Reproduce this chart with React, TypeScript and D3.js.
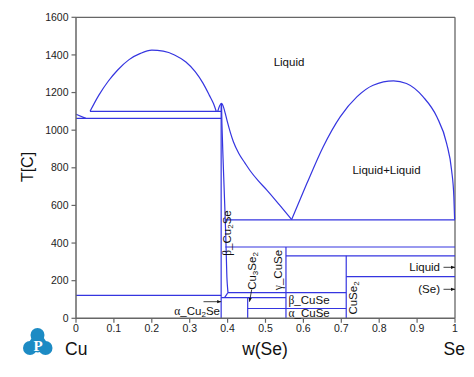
import React from "react";
import * as d3 from "d3";

// ---- data ----
const xTicks = [0, 0.1, 0.2, 0.3, 0.4, 0.5, 0.6, 0.7, 0.8, 0.9, 1];
const xTickLabels = ["0", "0.1", "0.2", "0.3", "0.4", "0.5", "0.6", "0.7", "0.8", "0.9", "1"];
const yTicks = [0, 200, 400, 600, 800, 1000, 1200, 1400, 1600];

// liquidus from pure Cu to eutectic
const cuLiquidus: [number, number][] = [[0, 1085], [0.026, 1063]];
// Cu-rich liquid miscibility gap
const leftDome: [number, number][] = [
  [0.037, 1100], [0.06, 1185], [0.085, 1260], [0.11, 1320], [0.14, 1375], [0.17, 1408],
  [0.2, 1425], [0.23, 1420], [0.26, 1400], [0.29, 1362], [0.315, 1310], [0.335, 1250],
  [0.352, 1185], [0.363, 1140], [0.37, 1100],
];
// Cu2Se liquidus
const cu2seLiquidus: [number, number][] = [
  [0.374, 1100], [0.379, 1130], [0.384, 1142], [0.389, 1124], [0.395, 1080], [0.4, 1040],
  [0.415, 940], [0.43, 875], [0.446, 825], [0.46, 783], [0.48, 733], [0.503, 683],
  [0.538, 600], [0.569, 525],
];
// Se-rich liquid miscibility gap
const rightDome: [number, number][] = [
  [0.569, 525], [0.609, 716], [0.652, 911], [0.697, 1071], [0.741, 1177], [0.784, 1239],
  [0.838, 1262], [0.872, 1248], [0.916, 1177], [0.952, 1071], [0.978, 929], [0.991, 787],
  [0.997, 645], [0.999, 525],
];
// beta Cu2Se Se-rich boundary
const betaBoundary: [number, number][] = [
  [0.384, 1142], [0.385, 1035], [0.388, 850], [0.391, 682], [0.395, 450], [0.397, 300],
  [0.399, 186], [0.401, 137],
];
const betaLower: [number, number][] = [[0.401, 137], [0.396, 122], [0.392, 110]];

// horizontal invariant lines: [T, xStart, xEnd]
const horizontals: [number, number, number][] = [
  [1063, 0, 0.383], [1100, 0.037, 0.383], [523, 0.393, 1], [379, 0.394, 1],
  [332, 0.554, 1], [221, 0.713, 1], [137, 0.401, 0.713], [110, 0.383, 0.554],
  [122, 0, 0.383], [52, 0.453, 0.713],
];
// vertical compound lines: [x, Tlow, Thigh]
const verticals: [number, number, number][] = [
  [0.383, 0, 1142], [0.453, 0, 110], [0.554, 0, 379], [0.713, 0, 332],
];

const BLUE = "#3535e0";
const AX = "#666";
const FONT = "'Liberation Sans', Arial, sans-serif";
const SERIF = "'Liberation Serif', 'Times New Roman', serif";

export default function App() {
  const x = d3.scaleLinear().domain([0, 1]).range([76, 455]);
  const y = d3.scaleLinear().domain([0, 1600]).range([318.3, 17.3]);
  const line = d3.line<[number, number]>().x(d => x(d[0])).y(d => y(d[1]));
  const monoX = d3.line<[number, number]>().x(d => x(d[0])).y(d => y(d[1])).curve(d3.curveMonotoneX);
  const monoY = d3.line<[number, number]>().x(d => x(d[0])).y(d => y(d[1])).curve(d3.curveMonotoneY);

  const paths = [
    line(cuLiquidus), line(betaLower),
    monoX(leftDome), monoX(cu2seLiquidus), monoX(rightDome), monoY(betaBoundary),
  ];

  const lab = { fontFamily: FONT, fontSize: 11.5, fill: "#111" } as const;

  return (
    <svg width={474} height={377} style={{ position: "absolute", left: 0, top: 0, background: "#fff" }}>
      <defs>
        <marker id="arr" viewBox="0 0 10 10" refX="10" refY="5" markerWidth="5" markerHeight="5" orient="auto">
          <path d="M0,1 L10,5 L0,9 z" fill="#111" />
        </marker>
      </defs>
      <rect x={0} y={0} width={474} height={377} fill="#fff" />

      {/* frame */}
      <line x1={x(0)} x2={x(1)} y1={y(1600)} y2={y(1600)} stroke={AX} strokeWidth={1.3} />
      <line x1={x(1)} x2={x(1)} y1={y(1600)} y2={y(0)} stroke={AX} strokeWidth={1.3} />

      {/* phase lines */}
      <g fill="none" stroke={BLUE} strokeWidth={1.2}>
        {paths.map((d, i) => <path key={"p" + i} d={d || ""} />)}
        {horizontals.map(([t, a, b], i) => (
          <line key={"h" + i} x1={x(a)} x2={x(b)} y1={y(t)} y2={y(t)} />
        ))}
        {verticals.map(([v, t0, t1], i) => (
          <line key={"v" + i} x1={x(v)} x2={x(v)} y1={y(t0)} y2={y(t1)} />
        ))}
      </g>

      {/* axes */}
      <line x1={x(0)} x2={x(0)} y1={y(0)} y2={y(1600)} stroke={AX} strokeWidth={1.5} />
      <line x1={x(0)} x2={x(1)} y1={y(0)} y2={y(0)} stroke={AX} strokeWidth={1.5} />
      {yTicks.map(t => (
        <g key={"yt" + t}>
          <line x1={x(0) - 4.5} x2={x(0)} y1={y(t)} y2={y(t)} stroke={AX} strokeWidth={1.2} />
          <text x={68.5} y={y(t)} dy="0.35em" textAnchor="end" fontFamily={FONT} fontSize={10.5} fill="#222">{t}</text>
        </g>
      ))}
      {xTicks.map((t, i) => (
        <g key={"xt" + t}>
          <line x1={x(t)} x2={x(t)} y1={y(0)} y2={y(0) + 4.5} stroke={AX} strokeWidth={1.2} />
          <text x={x(t)} y={332} textAnchor="middle" fontFamily={FONT} fontSize={10.5} fill="#222">{xTickLabels[i]}</text>
        </g>
      ))}

      {/* axis titles */}
      <text transform="translate(27,167) rotate(-90)" textAnchor="middle" dominantBaseline="central" fontFamily={FONT} fontSize={16} fill="#111">T[C]</text>
      <text x={65} y={355} fontFamily={FONT} fontSize={17.5} fill="#111">Cu</text>
      <text x={265} y={355} textAnchor="middle" fontFamily={FONT} fontSize={17.5} fill="#111">w(Se)</text>
      <text x={465} y={355} textAnchor="end" fontFamily={FONT} fontSize={17.5} fill="#111">Se</text>

      {/* logo */}
      <g fill="#1d8bc4">
        <circle cx={37.5} cy={335} r={7} />
        <circle cx={30} cy={348} r={7} />
        <circle cx={45.5} cy={348} r={7} />
        <circle cx={37.8} cy={344} r={8.5} />
      </g>
      <text x={38} y={350.5} textAnchor="middle" fontFamily={SERIF} fontWeight="bold" fontSize={15} fill="#fff">P</text>

      {/* region labels */}
      <text x={289} y={61.5} textAnchor="middle" dominantBaseline="central" {...lab}>Liquid</text>
      <text x={386.5} y={169.5} textAnchor="middle" dominantBaseline="central" {...lab}>Liquid+Liquid</text>

      <text transform="translate(227,233) rotate(-90)" textAnchor="middle" dominantBaseline="central" {...lab}>
        <tspan fontFamily={SERIF}>β</tspan>_Cu<tspan dy={3} fontSize={8}>2</tspan><tspan dy={-3}>Se</tspan>
      </text>
      <text transform="translate(251.5,271) rotate(-90)" textAnchor="middle" dominantBaseline="central" {...lab}>
        Cu<tspan dy={3} fontSize={8}>3</tspan><tspan dy={-3}>Se</tspan><tspan dy={3} fontSize={8}>2</tspan>
      </text>
      <text transform="translate(277.5,270) rotate(-90)" textAnchor="middle" dominantBaseline="central" {...lab}>
        <tspan fontFamily={SERIF}>γ</tspan>_CuSe
      </text>
      <text transform="translate(353,298) rotate(-90)" textAnchor="middle" dominantBaseline="central" {...lab}>
        CuSe<tspan dy={3} fontSize={8}>2</tspan>
      </text>

      <text x={288.5} y={300} dominantBaseline="central" {...lab}>
        <tspan fontFamily={SERIF}>β</tspan>_CuSe
      </text>
      <text x={288.5} y={312.7} dominantBaseline="central" {...lab}>
        <tspan fontFamily={SERIF}>α</tspan>_CuSe
      </text>
      <text x={220} y={311} textAnchor="end" dominantBaseline="central" {...lab}>
        <tspan fontFamily={SERIF}>α</tspan>_Cu<tspan dy={3} fontSize={8}>2</tspan><tspan dy={-3}>Se</tspan>
      </text>
      <text x={440} y={267.3} textAnchor="end" dominantBaseline="central" {...lab}>Liquid</text>
      <text x={440} y={289.3} textAnchor="end" dominantBaseline="central" {...lab}>(Se)</text>

      {/* arrows */}
      <g stroke="#111" strokeWidth={0.8} fill="none">
        <line x1={203.5} y1={301.7} x2={x(0.383)} y2={301.7} markerEnd="url(#arr)" />
        <line x1={251.7} y1={289.5} x2={249.5} y2={301.7} markerEnd="url(#arr)" />
        <line x1={443.5} y1={267.3} x2={x(1)} y2={267.3} markerEnd="url(#arr)" />
        <line x1={443.5} y1={289.3} x2={x(1)} y2={289.3} markerEnd="url(#arr)" />
      </g>
    </svg>
  );
}
